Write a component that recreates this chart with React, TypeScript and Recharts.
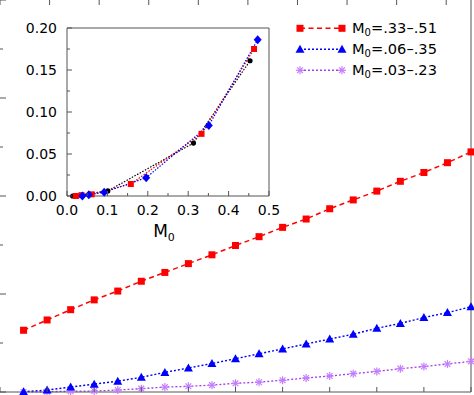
import React from "react";
import { LineChart, Line, XAxis, YAxis } from "recharts";

const FONT = "'DejaVu Sans', Verdana, sans-serif";

// main panel: 20 equally spaced points per series
const mainX = [1, 2, 3, 4, 5, 6, 7, 8, 9, 10, 11, 12, 13, 14, 15, 16, 17, 18, 19, 20];
const redY = [0.063, 0.0735, 0.084, 0.094, 0.103, 0.113, 0.122, 0.131, 0.14, 0.1495, 0.1585, 0.168, 0.1765, 0.187, 0.196, 0.205, 0.215, 0.224, 0.234, 0.245];
const blueY = [0.0003, 0.002, 0.005, 0.008, 0.011, 0.015, 0.02, 0.0245, 0.029, 0.034, 0.039, 0.044, 0.049, 0.054, 0.059, 0.065, 0.07, 0.076, 0.081, 0.087];
const violetY = [0.0, 0.0003, 0.0008, 0.001, 0.002, 0.0034, 0.005, 0.0058, 0.007, 0.0089, 0.01, 0.012, 0.0143, 0.0163, 0.0187, 0.021, 0.0238, 0.026, 0.0286, 0.0313];
const mainXTicks = [0, 2, 4, 6, 8, 10, 12, 14, 16, 18, 20];
const mainYTicks = [0, 0.05, 0.1, 0.15, 0.2, 0.25, 0.3, 0.35, 0.4];

const legendNames = ["=.33\u2013.51", "=.06\u2013.35", "=.03\u2013.23"];

// inset: M0 vs value
const insetBlackM = [0.014, 0.101, 0.313, 0.453];
const insetBlackV = [0.0, 0.006, 0.063, 0.161];
const insetRedM = [0.022, 0.036, 0.061, 0.158, 0.333, 0.463];
const insetRedV = [0.0, 0.001, 0.002, 0.0143, 0.074, 0.175];
const insetBlueM = [0.038, 0.054, 0.092, 0.196, 0.351, 0.472];
const insetBlueV = [0.0, 0.0015, 0.0044, 0.0218, 0.084, 0.186];
const insetXTicks = [0, 0.05, 0.1, 0.15, 0.2, 0.25, 0.3, 0.35, 0.4, 0.45, 0.5];
const insetYTicks = [0, 0.025, 0.05, 0.075, 0.1, 0.125, 0.15, 0.175, 0.2];

const mainRows = mainX.map((x, i) => ({ x, red: redY[i], blue: blueY[i], violet: violetY[i] }));
const pts = (m: number[], v: number[]) => m.map((mm, i) => ({ m: mm, v: v[i] }));

const RED = "#ff0000";
const BLUE = "#0000ff";
const VIOLET = "#a63cec";
const VIOLET_MK = "#c47dff";
const AXIS = "#555";

const isMult = (v: number, step: number) => Math.abs(v / step - Math.round(v / step)) < 1e-6;

function Square({ cx, cy, color, size = 7 }: any) {
  if (cx == null || cy == null) return null;
  return <rect x={cx - size / 2} y={cy - size / 2} width={size} height={size} fill={color} />;
}
function Triangle({ cx, cy, color }: any) {
  if (cx == null || cy == null) return null;
  return <polygon points={`${cx},${cy - 4.5} ${cx + 4.5},${cy + 3.5} ${cx - 4.5},${cy + 3.5}`} fill={color} />;
}
function Diamond({ cx, cy, color }: any) {
  if (cx == null || cy == null) return null;
  return <polygon points={`${cx},${cy - 4.5} ${cx + 4},${cy} ${cx},${cy + 4.5} ${cx - 4},${cy}`} fill={color} />;
}
function Dot({ cx, cy, color }: any) {
  if (cx == null || cy == null) return null;
  return <circle cx={cx} cy={cy} r={2.6} fill={color} />;
}
function Asterisk({ cx, cy, color }: any) {
  if (cx == null || cy == null) return null;
  const r = 4;
  const d = r * 0.72;
  return (
    <g stroke={color} strokeWidth={1.2}>
      <line x1={cx - r} y1={cy} x2={cx + r} y2={cy} />
      <line x1={cx} y1={cy - r} x2={cx} y2={cy + r} />
      <line x1={cx - d} y1={cy - d} x2={cx + d} y2={cy + d} />
      <line x1={cx - d} y1={cy + d} x2={cx + d} y2={cy - d} />
    </g>
  );
}

type Side = "bottom" | "top" | "left" | "right";
const tickMark =
  (side: Side, step: number, longLen: number, shortLen: number, fmt?: (v: number) => string) =>
  (props: any) => {
    const { x, y, payload } = props;
    const v = payload?.value ?? 0;
    const major = isMult(v, step);
    const len = major ? longLen : shortLen;
    let x2 = x;
    let y2 = y;
    if (side === "bottom") y2 = y - len;
    if (side === "top") y2 = y + len;
    if (side === "left") x2 = x + len;
    if (side === "right") x2 = x - len;
    return (
      <g>
        <line x1={x} y1={y} x2={x2} y2={y2} stroke={AXIS} strokeWidth={1} />
        {fmt && major && side === "bottom" && (
          <text x={x} y={y + 19} textAnchor="middle" fontFamily={FONT} fontSize={14} fill="#000">
            {fmt(v)}
          </text>
        )}
        {fmt && major && side === "left" && (
          <text x={x - 10} y={y + 5} textAnchor="end" fontFamily={FONT} fontSize={14} fill="#000">
            {fmt(v)}
          </text>
        )}
      </g>
    );
  };

function MTitle({ viewBox }: any) {
  if (!viewBox) return null;
  const cx = viewBox.x + viewBox.width / 2;
  return (
    <text x={cx - 4} y={viewBox.y + 41} textAnchor="middle" fontFamily={FONT} fontSize={17} fill="#000">
      M
      <tspan fontSize={11} dy={4}>0</tspan>
    </text>
  );
}

const legendSeries = [
  { color: RED, dash: "5 3.5", Marker: Square, mk: RED },
  { color: BLUE, dash: "2 2", Marker: Triangle, mk: BLUE },
  { color: VIOLET, dash: "2 2", Marker: Asterisk, mk: VIOLET_MK },
];

function LegendBox() {
  return (
    <svg width={474} height={395} style={{ position: "absolute", left: 0, top: 0, pointerEvents: "none" }}>
      {legendSeries.map((s, i) => {
        const y = 28.3 + i * 21;
        return (
          <g key={i}>
            <line x1={300} y1={y} x2={342} y2={y} stroke={s.color} strokeWidth={1.5} strokeDasharray={s.dash} />
            <s.Marker cx={300} cy={y} color={s.mk} />
            <s.Marker cx={342} cy={y} color={s.mk} />
            <text x={352} y={y + 5} fontFamily={FONT} fontSize={14.6} fill="#000">
              M
              <tspan fontSize={10} dy={2.5}>0</tspan>
              <tspan dy={-2.5}>{legendNames[i]}</tspan>
            </text>
          </g>
        );
      })}
    </svg>
  );
}

export default function App() {
  return (
    <div style={{ position: "absolute", left: 0, top: 0, width: 474, height: 395, overflow: "hidden", background: "#fff" }}>
      <div style={{ position: "absolute", left: -10, top: -10 }}>
        <LineChart width={484} height={405} data={mainRows} margin={{ top: 0, right: 0, bottom: 0, left: 0 }}>
          <XAxis dataKey="x" type="number" domain={[0, 20]} ticks={mainXTicks} interval={0} height={3}
            tickSize={0} tickMargin={0} tickLine={false} axisLine={{ stroke: AXIS }} tick={tickMark("bottom", 2, 5, 5)} />
          <XAxis xAxisId="top" orientation="top" type="number" domain={[0, 20]} ticks={mainXTicks} interval={0} height={10}
            tickSize={0} tickMargin={0} tickLine={false} axisLine={false} tick={tickMark("top", 2, 5, 5)} />
          <YAxis type="number" domain={[0, 0.4]} ticks={mainYTicks} interval={0} width={10}
            tickSize={0} tickMargin={0} tickLine={false} axisLine={false} tick={tickMark("left", 0.1, 6, 3)} />
          <YAxis yAxisId="right" orientation="right" type="number" domain={[0, 0.4]} ticks={mainYTicks} interval={0} width={3}
            tickSize={0} tickMargin={0} tickLine={false} axisLine={{ stroke: AXIS }} tick={tickMark("right", 0.1, 6, 3)} />
          <Line isAnimationActive={false} dataKey="violet" stroke={VIOLET} strokeWidth={1.3} strokeDasharray="2 2"
            dot={(p: any) => <Asterisk key={p.index} cx={p.cx} cy={p.cy} color={VIOLET_MK} />} />
          <Line isAnimationActive={false} dataKey="blue" stroke={BLUE} strokeWidth={1.4} strokeDasharray="2 2"
            dot={(p: any) => <Triangle key={p.index} cx={p.cx} cy={p.cy} color={BLUE} />} />
          <Line isAnimationActive={false} dataKey="red" stroke={RED} strokeWidth={1.5} strokeDasharray="5 3.5"
            dot={(p: any) => <Square key={p.index} cx={p.cx} cy={p.cy} color={RED} />} />
        </LineChart>
      </div>

      <div style={{ position: "absolute", left: 0, top: 0 }}>
        <LineChart width={290} height={250} margin={{ top: 0, right: 0, bottom: 0, left: 0 }}>
          <XAxis dataKey="m" type="number" domain={[0, 0.5]} ticks={insetXTicks} interval={0} height={54}
            tickSize={0} tickMargin={0} tickLine={false} axisLine={{ stroke: AXIS }}
            tick={tickMark("bottom", 0.1, 5, 3, (v) => v.toFixed(1))} label={<MTitle />} />
          <XAxis xAxisId="top" orientation="top" type="number" domain={[0, 0.5]} ticks={insetXTicks} interval={0} height={28}
            tickSize={0} tickMargin={0} tickLine={false} axisLine={{ stroke: AXIS }} tick={tickMark("top", 0.1, 5, 3)} />
          <YAxis type="number" domain={[0, 0.2]} ticks={insetYTicks} interval={0} width={67}
            tickSize={0} tickMargin={0} tickLine={false} axisLine={{ stroke: AXIS }}
            tick={tickMark("left", 0.05, 5, 3, (v) => v.toFixed(2))} />
          <YAxis yAxisId="right" orientation="right" type="number" domain={[0, 0.2]} ticks={insetYTicks} interval={0} width={21}
            tickSize={0} tickMargin={0} tickLine={false} axisLine={{ stroke: AXIS }} tick={tickMark("right", 0.05, 5, 3)} />
          <Line isAnimationActive={false} data={pts(insetBlackM, insetBlackV)} dataKey="v" stroke="#000" strokeWidth={1.2}
            strokeDasharray="1.5 1.5" dot={(p: any) => <Dot key={p.index} cx={p.cx} cy={p.cy} color="#000" />} />
          <Line isAnimationActive={false} data={pts(insetRedM, insetRedV)} dataKey="v" stroke={RED} strokeWidth={1.2}
            strokeDasharray="1.5 1.5" dot={(p: any) => <Square key={p.index} cx={p.cx} cy={p.cy} color={RED} size={6} />} />
          <Line isAnimationActive={false} data={pts(insetBlueM, insetBlueV)} dataKey="v" stroke={BLUE} strokeWidth={1.2}
            strokeDasharray="1.5 1.5" dot={(p: any) => <Diamond key={p.index} cx={p.cx} cy={p.cy} color={BLUE} />} />
        </LineChart>
      </div>

      <LegendBox />
    </div>
  );
}
